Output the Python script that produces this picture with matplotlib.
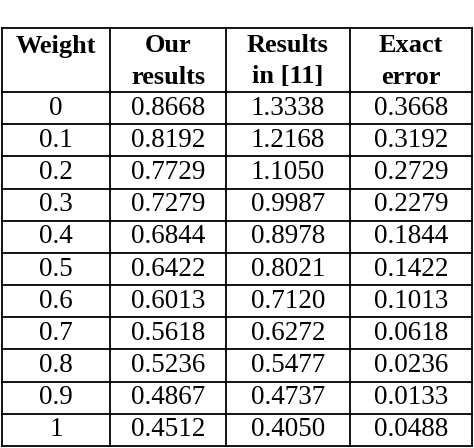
import matplotlib
matplotlib.use("Agg")
import matplotlib.pyplot as plt

headers = [["Weight"], ["Our", "results"], ["Results", "in [11]"], ["Exact", "error"]]
weights = ["0", "0.1", "0.2", "0.3", "0.4", "0.5", "0.6", "0.7", "0.8", "0.9", "1"]
ours = ["0.8668", "0.8192", "0.7729", "0.7279", "0.6844", "0.6422", "0.6013", "0.5618", "0.5236", "0.4867", "0.4512"]
ref11 = ["1.3338", "1.2168", "1.1050", "0.9987", "0.8978", "0.8021", "0.7120", "0.6272", "0.5477", "0.4737", "0.4050"]
exact = ["0.3668", "0.3192", "0.2729", "0.2279", "0.1844", "0.1422", "0.1013", "0.0618", "0.0236", "0.0133", "0.0488"]

plt.rcParams['font.family'] = ['Liberation Serif', 'DejaVu Serif']
plt.rcParams['font.serif'] = ['Liberation Serif', 'DejaVu Serif']

W, H = 474, 448
fig = plt.figure(figsize=(W/100, H/100), dpi=100)
ax = fig.add_axes([0, 0, 1, 1])
ax.set_xlim(0, W); ax.set_ylim(H, 0); ax.axis("off")

cols = [2, 110, 226, 350, 472]
top, hbot, bot = 28, 92, 446
rh = (bot - hbot) / len(weights)
lw = 1.3
for x in cols:
    ax.plot([x, x], [top, bot], color="black", lw=lw)
ax.plot([cols[0], cols[-1]], [top, top], color="black", lw=lw)
ax.plot([cols[0], cols[-1]], [hbot, hbot], color="black", lw=lw)
for i in range(len(weights)):
    y = hbot + (i + 1) * rh
    ax.plot([cols[0], cols[-1]], [y, y], color="black", lw=lw)

for j, h in enumerate(headers):
    cx = (cols[j] + cols[j+1]) / 2
    ax.text(cx, 46, h[0], ha="center", va="center", fontsize=19, fontweight="bold")
    if len(h) > 1:
        ax.text(cx, 77, h[1], ha="center", va="center", fontsize=19, fontweight="bold")

for i, row in enumerate(zip(weights, ours, ref11, exact)):
    cy = hbot + (i + 0.5) * rh
    for j, v in enumerate(row):
        cx = (cols[j] + cols[j+1]) / 2
        ax.text(cx, cy, v, ha="center", va="center", fontsize=19.5)

fig.savefig("out.png", dpi=100)
